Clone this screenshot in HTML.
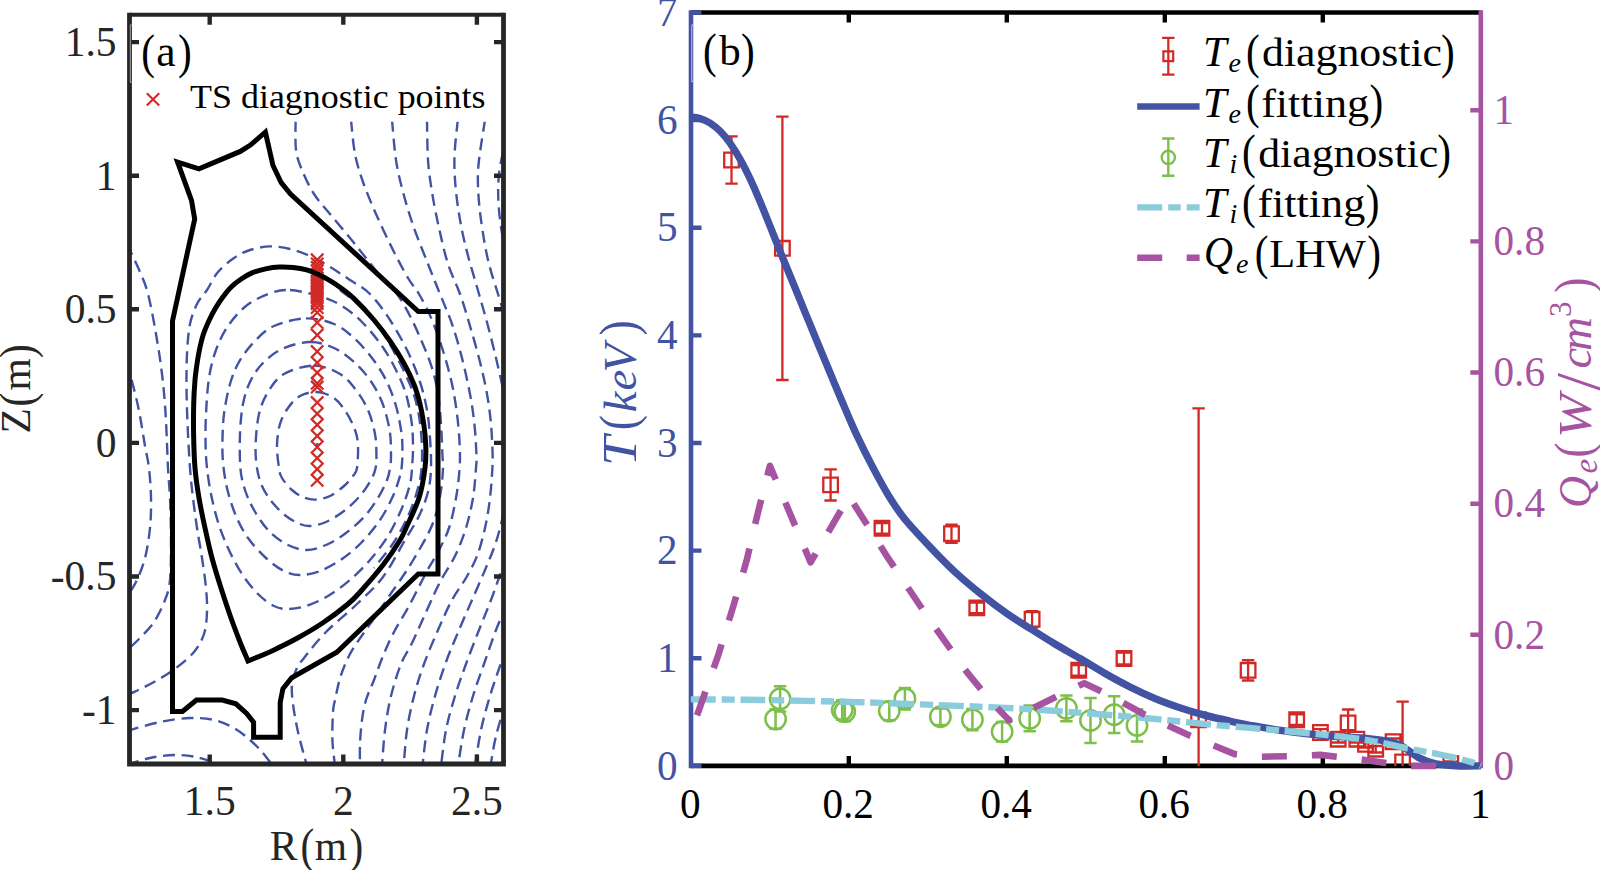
<!DOCTYPE html>
<html lang="en"><head><meta charset="utf-8"><title>EAST equilibrium and temperature profiles</title>
<style>
html,body{margin:0;padding:0;background:#fff;}
body{width:1600px;height:870px;overflow:hidden;font-family:"Liberation Serif",serif;}
svg{display:block;}
</style></head><body>
<svg width="1600" height="870" viewBox="0 0 1600 870">
<rect width="1600" height="870" fill="#fff"/>
<g id="panel-a">
<clipPath id="clipA"><rect x="129.5" y="121.8" width="374" height="642.2"/></clipPath>
<g clip-path="url(#clipA)" fill="none" stroke="#4353a4" stroke-width="2.4" stroke-dasharray="12 6.6">
<path d="M317 392C322.7 392.3 329.2 394.7 334 398C338.8 401.3 342.5 406.7 346 412C349.5 417.3 353 424.4 355 430C357 435.6 357.7 439.1 358 445.4C358.3 451.7 357.8 462.9 357 468C356.2 473.1 355.2 473 353 476C350.8 479 347.8 482.7 344 486C340.2 489.3 334.7 493.7 330 496C325.3 498.3 320.3 499.3 316 499.6C311.7 499.9 308 499.2 304 497.6C300 496 295.7 493.3 292 490C288.3 486.7 284.2 481.7 282 478C279.8 474.3 279.8 473.4 279 468C278.2 462.6 276.8 452.7 277 445.4C277.2 438.1 278.2 430.2 280 424C281.8 417.8 284.7 412.7 288 408C291.3 403.3 295.2 398.7 300 396C304.8 393.3 311.3 391.7 317 392Z"/>
<path d="M314 365.6C323.3 365.6 333 369.9 340 374C347 378.1 351.3 384 356 390C360.7 396 364.8 402.7 368 410C371.2 417.3 373.6 426.7 375 434C376.4 441.3 376.3 448.3 376.4 454C376.5 459.7 376.5 463.7 375.6 468C374.7 472.3 373.6 475.3 371 480C368.4 484.7 364.5 490.8 360 496C355.5 501.2 349.7 506.7 344 511C338.3 515.3 331.7 519.5 326 522C320.3 524.5 314.3 525.7 310 526C305.7 526.3 304 525.7 300 524C296 522.3 290.7 519.7 286 516C281.3 512.3 276 507 272 502C268 497 264.5 491.7 262 486C259.5 480.3 258.1 474.8 257 468C255.9 461.2 255.3 454.4 255.6 445.4C255.9 436.4 256.9 422.9 259 414C261.1 405.1 263.8 398.7 268 392C272.2 385.3 276.3 378.4 284 374C291.7 369.6 304.7 365.6 314 365.6Z"/>
<path d="M310 342C318.7 341.8 326.7 344.7 334 348C341.3 351.3 348 356.7 354 362C360 367.3 365.3 373.3 370 380C374.7 386.7 378.7 393.7 382 402C385.3 410.3 388.1 421.3 389.6 430C391.1 438.7 390.9 447.7 391 454C391.1 460.3 390.7 463.7 390 468C389.3 472.3 389 475 387 480C385 485 381.8 491.8 378 498C374.2 504.2 369.3 511.2 364 517C358.7 522.8 352.3 528.3 346 533C339.7 537.7 332.7 542.2 326 545C319.3 547.8 312.7 550.2 306 550C299.3 549.8 292.3 547.3 286 544C279.7 540.7 273.3 535.7 268 530C262.7 524.3 257.8 516.7 254 510C250.2 503.3 247.3 497 245 490C242.7 483 241.2 477.3 240.4 468C239.6 458.7 239.6 444.7 240 434C240.4 423.3 241.3 412.7 243 404C244.7 395.3 246.8 388.7 250 382C253.2 375.3 256.7 369.5 262 364C267.3 358.5 274 352.7 282 349C290 345.3 301.3 342.2 310 342Z"/>
<path d="M306 318.4C316 318.1 326 320.7 334 324C342 327.3 347.7 332.3 354 338C360.3 343.7 366.7 351 372 358C377.3 365 382 372 386 380C390 388 393.4 397 396 406C398.6 415 400.5 426 401.6 434C402.7 442 402.4 448.3 402.4 454C402.4 459.7 402 464.3 401.6 468C401.2 471.7 401.4 471.3 400 476C398.6 480.7 396.3 488.7 393 496C389.7 503.3 385.2 512.3 380 520C374.8 527.7 368.3 535.5 362 542C355.7 548.5 349 554.2 342 559C335 563.8 327 568.3 320 571C313 573.7 306 575 300 575C294 575 289.7 573.8 284 571C278.3 568.2 272 563.5 266 558C260 552.5 253 545 248 538C243 531 239.3 523.7 236 516C232.7 508.3 230.1 500 228 492C225.9 484 224.5 475.8 223.6 468C222.7 460.2 222.3 454.4 222.4 445.4C222.5 436.4 222.7 424.2 224 414C225.3 403.8 227.5 392.7 230 384C232.5 375.3 235 369 239 362C243 355 248.2 348 254 342C259.8 336 265.3 329.9 274 326C282.7 322.1 296 318.7 306 318.4Z"/>
<path d="M290 290C299 290.5 313.3 294.3 322 297C330.7 299.7 335.3 301.8 342 306C348.7 310.2 355.3 315.3 362 322C368.7 328.7 376.3 338 382 346C387.7 354 392 362 396 370C400 378 403.4 385.3 406 394C408.6 402.7 410.4 413.4 411.6 422C412.8 430.6 412.9 437.7 413 445.4C413.1 453.1 412.5 461.6 412 468C411.5 474.4 411.7 477.3 410 484C408.3 490.7 405.7 499.3 402 508C398.3 516.7 393.3 527.3 388 536C382.7 544.7 376.3 552.7 370 560C363.7 567.3 357 574 350 580C343 586 335.3 591.7 328 596C320.7 600.3 312.7 603.8 306 606C299.3 608.2 293.3 609 288 609C282.7 609 279 608.5 274 606C269 603.5 263.3 599.3 258 594C252.7 588.7 247 581.7 242 574C237 566.3 232 556.7 228 548C224 539.3 220.8 531 218 522C215.2 513 212.8 503 211 494C209.2 485 207.9 476.1 207 468C206.1 459.9 205.8 454.4 205.6 445.4C205.4 436.4 205.4 425.2 206 414C206.6 402.8 207.3 388.7 209 378C210.7 367.3 212.8 358.7 216 350C219.2 341.3 223 333.3 228 326C233 318.7 239.3 311.3 246 306C252.7 300.7 260.7 296.7 268 294C275.3 291.3 281 289.5 290 290Z"/>
<path d="M340 290C343.3 292.6 354 300.2 360 305.5C366 310.8 371.3 316.1 376 322C380.7 327.9 383.9 334 388 341C392.1 348 396.7 356.8 400.4 364C404.1 371.2 407.5 378.7 410 384.5C412.5 390.3 413.6 393.1 415.2 399C416.8 404.9 418.5 412.3 419.6 420C420.7 427.7 421.6 437 421.9 445C422.2 453 422.2 460.8 421.6 468C421 475.2 420.1 480.3 418 488C415.9 495.7 413 505 409 514C405 523 399.8 533 394 542C388.2 551 377.3 563.7 374 568"/>
<path d="M128 695C132.3 692.8 146 686.5 154 682C162 677.5 169.3 673 176 668C182.7 663 189.3 657.7 194 652C198.7 646.3 201.8 640.7 204 634C206.2 627.3 206.7 619.7 207 612C207.3 604.3 206.8 597 206 588C205.2 579 203.5 568 202 558C200.5 548 198.5 538 197 528C195.5 518 194.2 508 193 498C191.8 488 190.8 478.7 190 468C189.2 457.3 188.6 446.3 188 434C187.4 421.7 186.8 407.3 186.6 394C186.4 380.7 186.4 365.7 187 354C187.6 342.3 188.3 332.3 190 324C191.7 315.7 194.2 309.7 197 304C199.8 298.3 203.5 295.3 207 290C210.5 284.7 213.5 277.3 218 272C222.5 266.7 228.7 261.7 234 258C239.3 254.3 244 251.9 250 250C256 248.1 263.3 246.6 270 246.4C276.7 246.2 283.3 247.4 290 249C296.7 250.6 303.3 253 310 256C316.7 259 323.3 263 330 267C336.7 271 343.3 275.5 350 280C356.7 284.5 363.3 287.3 370 294C376.7 300.7 383.7 310.3 390 320C396.3 329.7 403 341.7 408 352C413 362.3 416.8 372.3 420 382C423.2 391.7 425.3 400.7 427 410C428.7 419.3 429.3 428.3 430 438C430.7 447.7 431.3 459 431 468C430.7 477 430 484 428 492C426 500 422.8 508 419 516C415.2 524 411 529.8 405 540C399 550.2 391 566.3 383 577C375 587.7 366.5 594.8 357 604C347.5 613.2 334.8 623 326 632C317.2 641 308.9 651.8 304 658C299.1 664.2 298.5 664.7 296.5 669C294.5 673.3 292.6 678.2 292 684C291.4 689.8 292 696 293 704C294 712 295.7 721.7 298 732C300.3 742.3 305.5 760.3 307 766"/>
<path d="M295.6 120C295.7 125 294.9 141.7 296 150C297.1 158.3 299 162.7 302 170C305 177.3 309.3 186.7 314 194C318.7 201.3 324 206.7 330 214C336 221.3 344 230.7 350 238C356 245.3 360.7 251.3 366 258C371.3 264.7 376.8 272 382 278C387.2 284 392.3 287.7 397 294C401.7 300.3 405.8 308 410 316C414.2 324 418.3 333.3 422 342C425.7 350.7 429.3 359.3 432 368C434.7 376.7 436.5 384.7 438 394C439.5 403.3 440.3 414 441 424C441.7 434 442.1 446.7 442.4 454C442.7 461.3 443.2 462 443 468C442.8 474 442.2 482.3 441 490C439.8 497.7 438.2 506.7 436 514C433.8 521.3 432 526 428 534C424 542 416.5 554.5 412 562C407.5 569.5 404.9 573.2 401 579C397.1 584.8 392.4 591.2 388.5 597C384.6 602.8 381.8 607.4 377.5 613.6C373.2 619.8 367.6 627.3 363 634C358.4 640.7 353.7 647 350 654C346.3 661 343.2 668.3 340.7 676C338.2 683.7 336.3 694 335 700C333.7 706 333.4 705.3 333 712C332.6 718.7 332.1 731 332.4 740C332.7 749 334.6 761.7 335 766"/>
<path d="M351 120C351.7 125.7 353 143.7 355 154C357 164.3 359.5 172 363 182C366.5 192 371.2 203 376 214C380.8 225 386.7 237.3 392 248C397.3 258.7 403.5 270.3 408 278C412.5 285.7 415 287 419 294C423 301 427.8 310 432 320C436.2 330 440.7 343.3 444 354C447.3 364.7 449.8 374 452 384C454.2 394 455.7 404 457 414C458.3 424 459.2 435 459.6 444C460 453 460.2 459 459.6 468C459 477 457.8 488 456 498C454.2 508 452 519 449 528C446 537 441.7 544.8 438 552C434.3 559.2 431.8 562 427 571C422.2 580 414.5 595.8 409 606C403.5 616.2 398.3 623.7 394 632C389.7 640.3 386.3 648 383 656C379.7 664 376.8 672.7 374 680C371.2 687.3 368 693.3 366 700C364 706.7 363 712.7 362 720C361 727.3 360.3 736.3 360 744C359.7 751.7 360 762.3 360 766"/>
<path d="M392 120C392.7 126.7 394.2 148 396 160C397.8 172 400 180.7 403 192C406 203.3 409.8 216 414 228C418.2 240 423.7 253 428 264C432.3 275 436 284 440 294C444 304 448.3 313.3 452 324C455.7 334.7 459 346.3 462 358C465 369.7 467.9 383 470 394C472.1 405 473.3 414 474.4 424C475.5 434 476.1 446.7 476.4 454C476.7 461.3 476.6 460.7 476 468C475.4 475.3 474.7 488 473 498C471.3 508 469 518.3 466 528C463 537.7 459.3 547 455 556C450.7 565 444.7 573 440 582C435.3 591 431.7 599.8 427 610C422.3 620.2 416.3 634 412 643C407.7 652 404.5 655.2 401 664C397.5 672.8 393.7 685 391 696C388.3 707 386.5 718.3 385 730C383.5 741.7 382.5 760 382 766"/>
<path d="M427 120C427.2 126.7 427.2 148 428 160C428.8 172 430.2 180.7 432 192C433.8 203.3 436.3 216 439 228C441.7 240 444.5 253 448 264C451.5 275 456.3 283.7 460 294C463.7 304.3 466.7 314.7 470 326C473.3 337.3 477.2 350.7 480 362C482.8 373.3 485.2 383.7 487 394C488.8 404.3 490.1 414 491 424C491.9 434 492.4 446.7 492.6 454C492.8 461.3 492.8 460.7 492.4 468C492 475.3 491.2 488 490 498C488.8 508 487.2 518.3 485 528C482.8 537.7 480.2 547.7 477 556C473.8 564.3 470.2 570.7 466 578C461.8 585.3 456.7 591.3 452 600C447.3 608.7 442.7 619.3 438 630C433.3 640.7 428 653 424 664C420 675 416.8 685 414 696C411.2 707 408.7 718.3 407 730C405.3 741.7 404.2 760 403.6 766"/>
<path d="M457.8 120C457.2 126.7 454.5 146.7 454.4 160C454.3 173.3 455.2 186 457 200C458.8 214 461.3 228.3 465 244C468.7 259.7 475.2 280.3 479 294C482.8 307.7 485.2 315.3 488 326C490.8 336.7 493.7 348.3 496 358C498.3 367.7 500.2 376.3 502 384C503.8 391.7 506.2 400.7 507 404"/>
<path d="M506.5 494C505.8 498.3 503.9 511.5 502 520C500.1 528.5 497.8 536.7 495 545C492.2 553.3 488.8 560.8 485 570C481.2 579.2 476.3 590 472 600C467.7 610 463.3 619.7 459 630C454.7 640.3 450 651 446 662C442 673 438.2 684.7 435 696C431.8 707.3 429.1 718.3 427 730C424.9 741.7 423.2 760 422.4 766"/>
<path d="M485 120C484 126.7 480.2 149 479 160C477.8 171 477.7 176 478 186C478.3 196 479.3 207.7 481 220C482.7 232.3 485.2 247.7 488 260C490.8 272.3 495 284 498 294C501 304 504.7 315.7 506 320"/>
<path d="M507 556C505.8 559.2 502.7 567.7 500 575C497.3 582.3 494.5 590.8 491 600C487.5 609.2 483.2 619.3 479 630C474.8 640.7 470 653 466 664C462 675 458.3 685 455 696C451.7 707 448.3 718.3 446 730C443.7 741.7 441.8 760 441 766"/>
<path d="M507 134C505.7 140.7 500.3 161.3 499 174C497.7 186.7 498 197 499 210C500 223 504 245 505 252"/>
<path d="M507 604C505.2 608.3 499.8 620 496 630C492.2 640 487.8 653 484 664C480.2 675 476.3 685 473 696C469.7 707 466.5 718.3 464 730C461.5 741.7 459 760 458 766"/>
<path d="M507 647C505.8 650.2 502.8 657.8 500 666C497.2 674.2 493.2 685.3 490 696C486.8 706.7 483.5 718.3 481 730C478.5 741.7 476 760 475 766"/>
<path d="M506 702C504.3 707.7 498.6 725.3 496 736C493.4 746.7 491.4 761 490.5 766"/>
<path d="M127 244C129.2 248.7 136.5 263.7 140 272C143.5 280.3 145.3 283.7 148 294C150.7 304.3 153.7 320.7 156 334C158.3 347.3 160.4 360.7 162 374C163.6 387.3 164.6 398.3 165.6 414C166.6 429.7 167.3 454 168 468C168.7 482 169.5 486 170 498C170.5 510 171 526.3 171 540C171 553.7 171 570 170 580C169 590 167.7 593 165 600C162.3 607 158.5 615.3 154 622C149.5 628.7 142.5 635.3 138 640C133.5 644.7 128.8 648.3 127 650"/>
<path d="M127 362C128.8 369.3 135 392 138 406C141 420 143.2 435.7 145 446C146.8 456.3 148 459.3 149 468C150 476.7 150.8 488 151 498C151.2 508 151 518 150 528C149 538 147.3 549 145 558C142.7 567 139 575.7 136 582C133 588.3 128.5 593.7 127 596"/>
<path d="M127 731C132.5 729.5 149.5 724.2 160 722C170.5 719.8 181 718.3 190 718C199 717.7 206.7 718.3 214 720C221.3 721.7 228 724.7 234 728C240 731.3 245.3 736 250 740C254.7 744 258.2 747.7 262 752C265.8 756.3 271.2 763.7 273 766"/>
<path d="M127 765C130.8 763.8 142.2 759.7 150 758C157.8 756.3 166.3 755.2 174 755C181.7 754.8 188.7 755.5 196 757C203.3 758.5 214.3 762.8 218 764"/>
</g>
<circle cx="317.3" cy="444.9" r="2" fill="#4353a4"/>
<g stroke="#d12a26" stroke-width="2.2" fill="none">
<path d="M311 474.1l12.4 12.4M311 486.5l12.4 -12.4M311 463l12.4 12.4M311 475.4l12.4 -12.4M311 451.9l12.4 12.4M311 464.3l12.4 -12.4M311 440.8l12.4 12.4M311 453.2l12.4 -12.4M311 429.7l12.4 12.4M311 442.1l12.4 -12.4M311 418.6l12.4 12.4M311 431l12.4 -12.4M311 407.5l12.4 12.4M311 419.9l12.4 -12.4M311 396.4l12.4 12.4M311 408.8l12.4 -12.4M311 380.9l12.4 12.4M311 393.3l12.4 -12.4M311 377.1l12.4 12.4M311 389.5l12.4 -12.4M311 366.5l12.4 12.4M311 378.9l12.4 -12.4M311 356.5l12.4 12.4M311 368.9l12.4 -12.4M311 345.4l12.4 12.4M311 357.8l12.4 -12.4M311 328.9l12.4 12.4M311 341.3l12.4 -12.4M311 316.4l12.4 12.4M311 328.8l12.4 -12.4M311 306.3l12.4 12.4M311 318.7l12.4 -12.4M311 301.3l12.4 12.4M311 313.7l12.4 -12.4M311 297.3l12.4 12.4M311 309.7l12.4 -12.4M311 294.1l12.4 12.4M311 306.5l12.4 -12.4M311 291.4l12.4 12.4M311 303.8l12.4 -12.4M311 289l12.4 12.4M311 301.4l12.4 -12.4M311 286.8l12.4 12.4M311 299.2l12.4 -12.4M311 284.8l12.4 12.4M311 297.2l12.4 -12.4M311 283l12.4 12.4M311 295.4l12.4 -12.4M311 281.3l12.4 12.4M311 293.7l12.4 -12.4M311 279.7l12.4 12.4M311 292.1l12.4 -12.4M311 278.2l12.4 12.4M311 290.6l12.4 -12.4M311 276.8l12.4 12.4M311 289.2l12.4 -12.4M311 274.8l12.4 12.4M311 287.2l12.4 -12.4M311 271.8l12.4 12.4M311 284.2l12.4 -12.4M311 268.3l12.4 12.4M311 280.7l12.4 -12.4M311 264.8l12.4 12.4M311 277.2l12.4 -12.4M311 261.3l12.4 12.4M311 273.7l12.4 -12.4M311 257.8l12.4 12.4M311 270.2l12.4 -12.4M311 253.6l12.4 12.4M311 266l12.4 -12.4"/>
</g>
<path d="M172.5 711.5L172.5 321L194.7 219L191.5 200.3L177.6 162.2L199 168.9L240.3 151.4L250.4 145.1L265.4 132.1L272.9 165.2L281.2 182.7L290.5 194L418.3 311.5L438 311.5L438 573.9L418.3 573.9L336.8 652.2L291.7 677.7L282.9 688.8L280.2 702.5L280.2 737.2L253.6 737.2L253.6 722.2L246.6 713.4L235.9 703.8L222.2 700L196.5 700L182.4 711.5Z" fill="none" stroke="#000" stroke-width="5" stroke-linejoin="miter"/>
<path d="M248 661C246.7 657.8 242.8 649.2 240 642C237.2 634.8 234.2 627 231 618C227.8 609 224.2 598 221 588C217.8 578 214.7 568 212 558C209.3 548 207.2 538 205 528C202.8 518 200.7 508 199 498C197.3 488 195.9 478.7 195 468C194.1 457.3 193.8 444.7 193.6 434C193.4 423.3 193.5 413 193.7 404C193.9 395 194.5 386.3 195 380C195.5 373.7 196 371 196.7 366C197.4 361 198.3 355.2 199.4 350C200.5 344.8 201.7 339.3 203.3 334.5C204.9 329.7 206.9 325.2 208.8 321C210.8 316.8 212.7 313 215 309C217.3 305 220 300.8 222.7 297.2C225.4 293.6 228 290.1 231 287.2C234 284.2 237 281.9 240.5 279.5C244 277.1 247.8 274.7 252 272.9C256.2 271.1 261.1 269.9 265.7 268.9C270.3 267.9 274.8 267.3 279.4 267.1C283.9 266.9 288.4 267.1 293 267.5C297.6 267.9 302.4 268.6 306.7 269.8C310.9 271 314.6 272.7 318.5 274.5C322.4 276.3 326.2 278.4 330 280.6C333.8 282.9 337 285 341 288C345 291 348.5 293.3 354 298.6C359.5 303.9 368 312.9 374 320C380 327.1 385 333.8 390 341C395 348.2 400 356.2 404 363.5C408 370.8 411.3 377.8 414 384.5C416.7 391.2 418.3 397.1 420 404C421.7 410.9 423 419 424 426C425 433 425.6 439 425.8 446C426 453 426.1 459.3 425 468C423.9 476.7 422.2 488 419 498C415.8 508 409.2 520.8 406 528C402.8 535.2 403.3 534.8 399.5 541C395.7 547.2 389.4 556.7 383 565C376.6 573.3 366.8 584.5 361 591C355.2 597.5 354.3 598.7 348 604C341.7 609.3 331.3 617.2 323 622.8C314.7 628.4 306.3 633.2 298 637.8C289.7 642.4 281.3 646.5 273 650.4C264.7 654.3 252.2 659.2 248 661Z" fill="none" stroke="#000" stroke-width="5" stroke-linejoin="miter"/>
<path d="M129.5 12.8V766.4M503.5 12.8V766.4M129.5 764H503.5" fill="none" stroke="#262626" stroke-width="4.8"/>
<path d="M129.5 14.8H503.5" fill="none" stroke="#262626" stroke-width="4.0"/>
<path d="M209.7 764v-9.5M209.7 15.2v9.5M343.3 764v-9.5M343.3 15.2v9.5M476.9 764v-9.5M476.9 15.2v9.5M129.5 42.1h9.5M503.5 42.1h-9.5M129.5 175.7h9.5M503.5 175.7h-9.5M129.5 309.3h9.5M503.5 309.3h-9.5M129.5 442.9h9.5M503.5 442.9h-9.5M129.5 576.5h9.5M503.5 576.5h-9.5M129.5 710.1h9.5M503.5 710.1h-9.5" stroke="#262626" stroke-width="4.4" fill="none"/>
<g font-family='"Liberation Serif", serif' font-size="41.5" fill="#262626">
<text x="209.7" y="814.5" text-anchor="middle">1.5</text>
<text x="343.3" y="814.5" text-anchor="middle">2</text>
<text x="476.9" y="814.5" text-anchor="middle">2.5</text>
<text x="116.5" y="55.9" text-anchor="end">1.5</text>
<text x="116.5" y="189.5" text-anchor="end">1</text>
<text x="116.5" y="323.1" text-anchor="end">0.5</text>
<text x="116.5" y="456.7" text-anchor="end">0</text>
<text x="116.5" y="590.3" text-anchor="end">-0.5</text>
<text x="116.5" y="723.9" text-anchor="end">-1</text>
<text x="269.7" y="859.5" font-size="41.5">R</text>
<text x="300.6" y="862.2" font-size="48" textLength="13.7" lengthAdjust="spacingAndGlyphs">(</text>
<text x="314.8" y="859.5" font-size="41.5">m</text>
<text x="349.5" y="862.2" font-size="48" textLength="13.7" lengthAdjust="spacingAndGlyphs">)</text>
<g transform="translate(30 433) rotate(-90)">
<text x="-0.5" y="0" font-size="41.5">Z</text>
<text x="26.4" y="2.5" font-size="48" textLength="13.7" lengthAdjust="spacingAndGlyphs">(</text>
<text x="42.6" y="0" font-size="41.5">m</text>
<text x="75.1" y="2.5" font-size="48" textLength="13.7" lengthAdjust="spacingAndGlyphs">)</text>
</g>
</g>
<g font-family='"Liberation Serif", serif' fill="#000">
<text x="141.3" y="68" font-size="48" textLength="13.7" lengthAdjust="spacingAndGlyphs">(</text>
<text x="156.2" y="65.9" font-size="43.5">a</text>
<text x="177.9" y="68" font-size="48" textLength="13.7" lengthAdjust="spacingAndGlyphs">)</text>
<text x="190" y="108" font-size="34" textLength="295.5" lengthAdjust="spacingAndGlyphs">TS diagnostic points</text>
</g>
<path d="M146.8 93.2l12.4 12.4M146.8 105.6l12.4-12.4" stroke="#d12a26" stroke-width="2.1" fill="none"/>
<path d="M131.8 24.9H130.3V82.3H131.8" stroke="#d8d8d8" stroke-opacity="0.9" stroke-width="0.8" fill="none"/>
</g>
<g id="panel-b">
<clipPath id="clipB"><rect x="691" y="12.5" width="789.8" height="753.4"/></clipPath>
<path d="M691 12.5H1480.8M691 765.9H1480.8" stroke="#000" stroke-width="4.6" fill="none"/>
<path d="M848.8 765.9v-10M848.8 12.5v10M1006.8 765.9v-10M1006.8 12.5v10M1164.8 765.9v-10M1164.8 12.5v10M1322.8 765.9v-10M1322.8 12.5v10" stroke="#000" stroke-width="4.4" fill="none"/>
<path d="M691 10.2V768.2" stroke="#4353a4" stroke-width="4.6" fill="none"/>
<path d="M1480.8 10.2V768.2" stroke="#a653a1" stroke-width="4.6" fill="none"/>
<path d="M691 765.9h10.5M691 658.3h10.5M691 550.6h10.5M691 443h10.5M691 335.4h10.5M691 227.8h10.5M691 120.1h10.5M691 12.5h10.5" stroke="#4353a4" stroke-width="4.4" fill="none"/>
<path d="M1480.8 766h-10.5M1480.8 634.8h-10.5M1480.8 503.7h-10.5M1480.8 372.5h-10.5M1480.8 241.4h-10.5M1480.8 110.2h-10.5" stroke="#a653a1" stroke-width="4.4" fill="none"/>
<g clip-path="url(#clipB)">
<g stroke="#d12a26" stroke-width="2.3" fill="none">
<path d="M731.5 183.7V136.4M725.3 183.7h12.4M725.3 136.4h12.4M724.2 152.7h14.6v14.6h-14.6zM782.4 380V116.6M776.2 380h12.4M776.2 116.6h12.4M775.1 241h14.6v14.6h-14.6zM830.6 500.5V469.3M824.4 500.5h12.4M824.4 469.3h12.4M823.3 477.6h14.6v14.6h-14.6zM882 533.7V523M875.8 533.7h12.4M875.8 523h12.4M874.7 521h14.6v14.6h-14.6zM951.5 542.8V524.6M945.3 542.8h12.4M945.3 524.6h12.4M944.2 526.4h14.6v14.6h-14.6zM976.8 613.2V602.5M970.6 613.2h12.4M970.6 602.5h12.4M969.5 600.6h14.6v14.6h-14.6zM1032.1 627.3V611.2M1025.9 627.3h12.4M1025.9 611.2h12.4M1024.8 612h14.6v14.6h-14.6zM1078.7 675.7V665M1072.5 675.7h12.4M1072.5 665h12.4M1071.4 663h14.6v14.6h-14.6zM1124 664.4V652.6M1117.8 664.4h12.4M1117.8 652.6h12.4M1116.7 651.2h14.6v14.6h-14.6zM1198.6 1031V408.4M1192.4 1031h12.4M1192.4 408.4h12.4M1191.3 712.4h14.6v14.6h-14.6zM1248.1 680.5V660.1M1241.9 680.5h12.4M1241.9 660.1h12.4M1240.8 663h14.6v14.6h-14.6zM1296.7 725V714.3M1290.5 725h12.4M1290.5 714.3h12.4M1289.4 712.4h14.6v14.6h-14.6zM1320.4 735.7V729.2M1314.2 735.7h12.4M1314.2 729.2h12.4M1313.1 725.2h14.6v14.6h-14.6zM1338.2 742.5V736M1332 742.5h12.4M1332 736h12.4M1330.9 731.9h14.6v14.6h-14.6zM1348.1 736.3V709.5M1341.9 736.3h12.4M1341.9 709.5h12.4M1340.8 715.6h14.6v14.6h-14.6zM1356.8 742.5V736M1350.6 742.5h12.4M1350.6 736h12.4M1349.5 731.9h14.6v14.6h-14.6zM1365.5 747.6V741.2M1359.3 747.6h12.4M1359.3 741.2h12.4M1358.2 737.1h14.6v14.6h-14.6zM1375.7 752.5V746M1369.5 752.5h12.4M1369.5 746h12.4M1368.4 741.9h14.6v14.6h-14.6zM1393.1 744.9V738.5M1386.9 744.9h12.4M1386.9 738.5h12.4M1385.8 734.4h14.6v14.6h-14.6zM1402.6 822.1V701.7M1396.4 822.1h12.4M1396.4 701.7h12.4M1395.3 754.6h14.6v14.6h-14.6zM1450.8 765.6V761.3M1444.6 765.6h12.4M1444.6 761.3h12.4M1443.5 756.1h14.6v14.6h-14.6z"/>
</g>
</g>
<path d="M690.5 117C692.1 117.2 696.8 117.4 700 118.4C703.2 119.4 706.7 120.9 710 123C713.3 125.1 716.7 127.7 720 131C723.3 134.3 726.7 138.3 730 143C733.3 147.7 736.7 153.1 740 159C743.3 164.9 746.7 171.4 750 178.5C753.3 185.6 756.7 193.4 760 201.3C763.3 209.2 766.7 217.7 770 226C773.3 234.3 776.7 242.8 780 251C783.3 259.2 786.7 267.4 790 275.5C793.3 283.6 797 292.4 800 299.8C803 307.2 804.2 310.3 808.3 320.2C812.4 330.1 819 346.2 824.4 359.1C829.8 372 835.1 385.1 840.5 397.7C845.9 410.3 851.2 423.2 856.6 434.7C862 446.2 867.2 456.7 872.6 466.9C878 477.1 883.4 487.3 888.7 495.9C894 504.5 897.5 510.1 904.5 518.7C911.5 527.3 922.1 538.5 930.6 547.5C939.1 556.5 947.3 564.9 955.7 572.6C964.1 580.3 972.4 587.2 980.8 593.9C989.1 600.6 997.4 606.9 1005.8 612.7C1014.1 618.6 1022.7 623.8 1030.9 629C1039.1 634.2 1046.8 639.1 1055 644C1063.2 648.9 1071.7 653.6 1080 658.5C1088.3 663.4 1096.8 668.8 1105.1 673.5C1113.4 678.2 1121.8 682.8 1130.1 687C1138.4 691.2 1146.8 695.1 1155.2 698.6C1163.6 702.1 1172 705.1 1180.3 707.9C1188.6 710.7 1196.9 713.2 1205.3 715.4C1213.7 717.6 1222.1 719.4 1230.4 721.2C1238.8 723 1247.1 724.7 1255.4 726.2C1263.8 727.7 1272.1 729.1 1280.5 730.4C1288.9 731.6 1297.2 732.7 1305.6 733.7C1313.9 734.7 1322.2 735.6 1330.6 736.2C1338.9 736.9 1347.3 736.9 1355.7 737.6C1364.1 738.3 1373.3 738.9 1380.8 740.2C1388.3 741.5 1394.5 742.6 1400.8 745.5C1407 748.4 1412.4 754.4 1418.3 757.4C1424.2 760.4 1429.6 762.3 1435.9 763.7C1442.2 765.1 1448.4 765.4 1455.9 765.8C1463.4 766.2 1476.7 765.9 1480.8 765.9" fill="none" stroke="#4353a4" stroke-width="7.3"/>
<g clip-path="url(#clipB)">
<g stroke="#7cc04b" stroke-width="2.5" fill="none">
<path d="M780.1 686.2V711.4M773.9 686.2h12.4M773.9 711.4h12.4M775.6 709.5V728.8M769.4 709.5h12.4M769.4 728.8h12.4M842.2 700.3V719.7M836 700.3h12.4M836 719.7h12.4M844.8 701.9V721.3M838.6 701.9h12.4M838.6 721.3h12.4M889.3 701.9V720.2M883.1 701.9h12.4M883.1 720.2h12.4M904.9 687.9V709.4M898.7 687.9h12.4M898.7 709.4h12.4M940.4 708.4V724.9M934.2 708.4h12.4M934.2 724.9h12.4M972.4 709.1V730.2M966.2 709.1h12.4M966.2 730.2h12.4M1002.1 722V741.4M995.9 722h12.4M995.9 741.4h12.4M1029.7 705.5V731.3M1023.5 705.5h12.4M1023.5 731.3h12.4M1066.4 695.5V721.3M1060.2 695.5h12.4M1060.2 721.3h12.4M1090.5 697.9V743M1084.3 697.9h12.4M1084.3 743h12.4M1114.2 696.3V732.9M1108 696.3h12.4M1108 732.9h12.4M1137 709.2V741.5M1130.8 709.2h12.4M1130.8 741.5h12.4"/>
<circle cx="780.1" cy="698.8" r="10.2"/>
<circle cx="775.6" cy="719.1" r="10.2"/>
<circle cx="842.2" cy="710" r="10.2"/>
<circle cx="844.8" cy="711.6" r="10.2"/>
<circle cx="889.3" cy="711.1" r="10.2"/>
<circle cx="904.9" cy="698.6" r="10.2"/>
<circle cx="940.4" cy="716.7" r="10.2"/>
<circle cx="972.4" cy="719.7" r="10.2"/>
<circle cx="1002.1" cy="731.7" r="10.2"/>
<circle cx="1029.7" cy="718.4" r="10.2"/>
<circle cx="1066.4" cy="708.4" r="10.2"/>
<circle cx="1090.5" cy="720.4" r="10.2"/>
<circle cx="1114.2" cy="714.6" r="10.2"/>
<circle cx="1137" cy="725.4" r="10.2"/>
</g>
</g>
<path d="M690.8 699.4C697.4 699.4 717.1 699.4 730.3 699.6C743.5 699.7 754 699.8 769.8 700.1C785.6 700.4 806.7 700.8 825.1 701.3C843.5 701.8 858.1 702.1 880.4 702.9C902.7 703.7 937.8 705.1 958.6 705.9C979.4 706.7 990.6 707.1 1005.2 707.9C1019.8 708.6 1032.9 709.4 1046.3 710.3C1059.7 711.2 1071.7 712.2 1085.8 713.2C1099.9 714.3 1117.7 715.6 1130.8 716.7C1144 717.8 1152.6 718.7 1164.8 719.9C1177 721.1 1191.1 722.7 1204.3 724C1217.5 725.2 1231.4 726.3 1243.8 727.4C1256.2 728.5 1264.1 729.1 1278.6 730.4C1293 731.8 1315.4 733.8 1330.7 735.5C1346 737.2 1357.7 738.5 1370.2 740.6C1382.7 742.7 1395.2 746 1405.8 748.1C1416.3 750.1 1425.1 751.5 1433.4 753.1C1441.7 754.8 1449.6 756.6 1455.5 757.9C1461.4 759.3 1464.7 760.1 1468.9 761.4C1473.2 762.7 1478.8 765.1 1480.8 765.9" fill="none" stroke="#8acbdc" stroke-width="6.4" stroke-dasharray="25 5.8 13 5.8"/>
<path d="M697.1 715.3L708.5 682.8L717.9 656.2L733.1 606.9L746.4 561.4L758.5 510.2L769.9 465.8L810.6 562.4L849.1 496.4L888.3 558.4L927.8 617.2L967.3 672.7L991 701.6L1009.2 720.3" fill="none" stroke="#a653a1" stroke-width="6.6" stroke-dasharray="25 25" stroke-linejoin="round"/>
<path d="M1009.2 720.3L1038.4 705.5L1062.1 693.7L1084.2 683.2L1109.5 695.3L1143.5 714L1188.5 735L1234.7 754.1L1261.2 756.7L1291.2 756.1L1320.4 754.9L1358.3 759L1380.5 762.3L1408.1 765.9L1441.3 765.9" fill="none" stroke="#a653a1" stroke-width="6.6" stroke-dasharray="25 25" stroke-dashoffset="22.5" stroke-linejoin="round"/>
<circle cx="1009.2" cy="720.3" r="3.3" fill="#a653a1"/>
<g font-family='"Liberation Serif", serif' font-size="41.2">
<text x="690.2" y="817.5" text-anchor="middle" fill="#000">0</text>
<text x="848.2" y="817.5" text-anchor="middle" fill="#000">0.2</text>
<text x="1006.2" y="817.5" text-anchor="middle" fill="#000">0.4</text>
<text x="1164.2" y="817.5" text-anchor="middle" fill="#000">0.6</text>
<text x="1322.2" y="817.5" text-anchor="middle" fill="#000">0.8</text>
<text x="1480.2" y="817.5" text-anchor="middle" fill="#000">1</text>
<text x="677.5" y="779.5" text-anchor="end" fill="#4353a4">0</text>
<text x="677.5" y="671.9" text-anchor="end" fill="#4353a4">1</text>
<text x="677.5" y="564.2" text-anchor="end" fill="#4353a4">2</text>
<text x="677.5" y="456.6" text-anchor="end" fill="#4353a4">3</text>
<text x="677.5" y="349" text-anchor="end" fill="#4353a4">4</text>
<text x="677.5" y="241.4" text-anchor="end" fill="#4353a4">5</text>
<text x="677.5" y="133.7" text-anchor="end" fill="#4353a4">6</text>
<text x="677.5" y="26.1" text-anchor="end" fill="#4353a4">7</text>
<text x="1493.5" y="779.7" fill="#a653a1">0</text>
<text x="1493.5" y="648.5" fill="#a653a1">0.2</text>
<text x="1493.5" y="517.4" fill="#a653a1">0.4</text>
<text x="1493.5" y="386.2" fill="#a653a1">0.6</text>
<text x="1493.5" y="255.1" fill="#a653a1">0.8</text>
<text x="1493.5" y="123.9" fill="#a653a1">1</text>
</g>
<g transform="translate(635.5 463.4) rotate(-90)" font-family='"Liberation Serif", serif' fill="#4353a4">
<text x="-2.5" y="0" font-size="48" font-style="italic" textLength="30" lengthAdjust="spacingAndGlyphs">T</text>
<text x="33.1" y="0" font-size="53" textLength="15.2" lengthAdjust="spacingAndGlyphs">(</text>
<text x="51.2" y="0" font-size="47" font-style="italic">k</text>
<text x="73" y="0" font-size="47" font-style="italic">e</text>
<text x="91" y="0" font-size="47" font-style="italic">V</text>
<text x="127.9" y="0" font-size="53" textLength="15.2" lengthAdjust="spacingAndGlyphs">)</text>
</g>
<g transform="translate(1590.5 506.6) rotate(-90)" font-family='"Liberation Serif", serif' fill="#a653a1">
<text x="-1.5" y="0" font-size="46" font-style="italic" textLength="32" lengthAdjust="spacingAndGlyphs">Q</text>
<text x="33" y="6.5" font-size="33" font-style="italic">e</text>
<text x="48.9" y="0" font-size="53" textLength="15.2" lengthAdjust="spacingAndGlyphs">(</text>
<text x="68.5" y="0" font-size="47" font-style="italic" textLength="44" lengthAdjust="spacingAndGlyphs">W</text>
<text x="115.3" y="10.5" font-size="66">/</text>
<text x="138" y="0" font-size="47" font-style="italic">c</text>
<text x="155.5" y="0" font-size="47" font-style="italic">m</text>
<text x="189.5" y="-20" font-size="31">3</text>
<text x="213.8" y="0" font-size="53" textLength="15.2" lengthAdjust="spacingAndGlyphs">)</text>
</g>
<g font-family='"Liberation Serif", serif' fill="#000">
<text x="703.1" y="66.7" font-size="48" textLength="13.7" lengthAdjust="spacingAndGlyphs">(</text>
<text x="719.2" y="65.3" font-size="43">b</text>
<text x="741.1" y="66.7" font-size="48" textLength="13.7" lengthAdjust="spacingAndGlyphs">)</text>
</g>
<path d="M693.2 24.9H691.8V81.7H693.2" stroke="#fff" stroke-opacity="0.85" stroke-width="0.8" fill="none"/>
<g font-family='"Liberation Serif", serif' fill="#000">
<text x="1203" y="66.4" font-size="42.5" font-style="italic">T</text>
<text x="1228.6" y="72.4" font-size="28" font-style="italic">e</text>
<text x="1245.9" y="68" font-size="48" textLength="13.7" lengthAdjust="spacingAndGlyphs">(</text>
<text x="1262" y="66.4" font-size="40" textLength="180" lengthAdjust="spacingAndGlyphs">diagnostic</text>
<text x="1441" y="68" font-size="48" textLength="13.7" lengthAdjust="spacingAndGlyphs">)</text>
<text x="1203" y="116.5" font-size="42.5" font-style="italic">T</text>
<text x="1228.6" y="122.5" font-size="28" font-style="italic">e</text>
<text x="1245.9" y="118.1" font-size="48" textLength="13.7" lengthAdjust="spacingAndGlyphs">(</text>
<text x="1261.2" y="116.5" font-size="40" textLength="107.8" lengthAdjust="spacingAndGlyphs">fitting</text>
<text x="1369.6" y="118.1" font-size="48" textLength="13.7" lengthAdjust="spacingAndGlyphs">)</text>
<text x="1203" y="166.6" font-size="42.5" font-style="italic">T</text>
<text x="1229.6" y="172.6" font-size="28" font-style="italic">i</text>
<text x="1242.1" y="168.2" font-size="48" textLength="13.7" lengthAdjust="spacingAndGlyphs">(</text>
<text x="1258.2" y="166.6" font-size="40" textLength="180" lengthAdjust="spacingAndGlyphs">diagnostic</text>
<text x="1437.2" y="168.2" font-size="48" textLength="13.7" lengthAdjust="spacingAndGlyphs">)</text>
<text x="1203" y="216.7" font-size="42.5" font-style="italic">T</text>
<text x="1229.6" y="222.7" font-size="28" font-style="italic">i</text>
<text x="1242.1" y="218.3" font-size="48" textLength="13.7" lengthAdjust="spacingAndGlyphs">(</text>
<text x="1257.4" y="216.7" font-size="40" textLength="107.8" lengthAdjust="spacingAndGlyphs">fitting</text>
<text x="1365.8" y="218.3" font-size="48" textLength="13.7" lengthAdjust="spacingAndGlyphs">)</text>
<text x="1204" y="267.3" font-size="44" font-style="italic" textLength="29" lengthAdjust="spacingAndGlyphs">Q</text>
<text x="1236" y="273.3" font-size="28" font-style="italic">e</text>
<text x="1254.8" y="268.9" font-size="48" textLength="13.7" lengthAdjust="spacingAndGlyphs">(</text>
<text x="1269.3" y="267.3" font-size="40" textLength="96.5" lengthAdjust="spacingAndGlyphs">LHW</text>
<text x="1367.3" y="268.9" font-size="48" textLength="13.7" lengthAdjust="spacingAndGlyphs">)</text>
</g>
<path d="M1168.3 37.9V74.7M1162.1 37.9h12.4M1162.1 74.7h12.4M1163.4 51.4h9.8v9.8h-9.8z" stroke="#d12a26" stroke-width="2.2" fill="none"/>
<path d="M1137.2 106.5H1199.6" stroke="#4353a4" stroke-width="6.4" fill="none"/>
<path d="M1168.3 138.5V175.8M1162.1 138.5h12.4M1162.1 175.8h12.4" stroke="#7cc04b" stroke-width="2.4" fill="none"/><circle cx="1168.3" cy="157.4" r="6.6" stroke="#7cc04b" stroke-width="2.4" fill="none"/>
<path d="M1137.2 207.4H1199.6" stroke="#8acbdc" stroke-width="6.4" stroke-dasharray="25 6 12.5 6" fill="none"/>
<path d="M1137.2 257.8H1199.6" stroke="#a653a1" stroke-width="6.4" stroke-dasharray="25 24.5" fill="none"/>
</g>
</svg>
</body></html>
